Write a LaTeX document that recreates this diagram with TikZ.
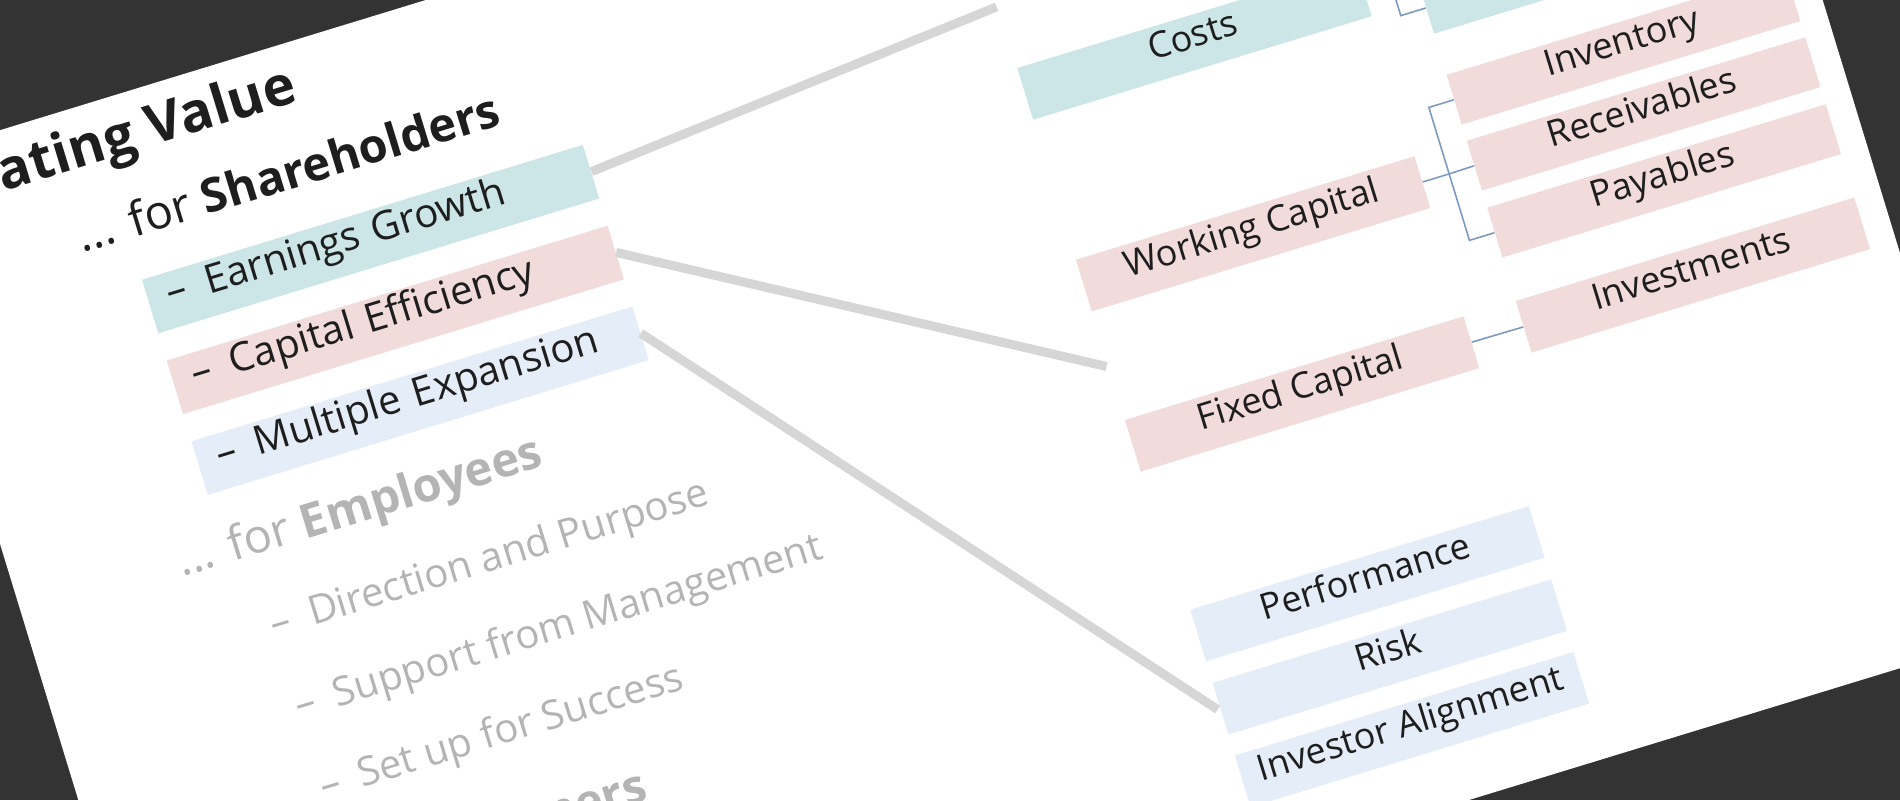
\documentclass[tikz,border=0pt]{standalone}
\usepackage{fontspec}
\setmainfont{Open Sans}
\definecolor{bgdark}{RGB}{51,51,51}
\definecolor{tealf}{RGB}{204,229,230}
\definecolor{pinkf}{RGB}{242,219,219}
\definecolor{bluef}{RGB}{229,238,248}
\definecolor{ink}{RGB}{30,30,30}
\definecolor{fade}{RGB}{180,180,180}
\definecolor{linegray}{RGB}{214,214,214}
\definecolor{brkblue}{RGB}{125,155,192}
\begin{document}
\begin{tikzpicture}[x=0.5pt,y=0.5pt,
  lbox/.style={rectangle, inner xsep=10pt, inner ysep=0pt, text width=210.5pt,
    align=left, minimum height=28pt, text height=0.8em, text depth=0.26em,
    font=\fontsize{20}{24}\selectfont, text=ink},
  rbox/.style={rectangle, inner sep=0pt, minimum width=177pt, minimum height=27pt,
    text height=0.8em, text depth=0.26em, align=center,
    font=\fontsize{18}{22}\selectfont, text=ink},
  titletext/.style={anchor=base east, inner sep=0pt, font=\fontsize{27.5}{32}\selectfont\bfseries, text=ink},
  hdr/.style={anchor=base west, inner sep=0pt, font=\fontsize{23.5}{28}\selectfont},
  subitem/.style={anchor=base west, inner sep=0pt, font=\fontsize{20}{24}\selectfont, text=fade},
  conn/.style={draw=linegray, line width=4.5pt},
  brk/.style={draw=brkblue, line width=0.8pt}]
\useasboundingbox (0,0) rectangle (1900,-800);
\fill[bgdark] (0,0) rectangle (1900,-800);
\clip (0,0) rectangle (1900,-800);
\begin{scope}[rotate=17, transform shape]
  \fill[white] (-159,-124.5) rectangle (1743,-1194.5);
  % left list
  \node[titletext] (title) at (257,-184) {Creating Value};
  \node[hdr, text=ink] (shh) at (5,-266) {... for \textbf{Shareholders}};
  \node[lbox, fill=tealf] (eg) at (284.5,-337) {–\hspace{0.5em}Earnings Growth};
  \node[lbox, fill=pinkf] (ce) at (284.5,-421.5) {–\hspace{0.5em}Capital Efficiency};
  \node[lbox, fill=bluef] (me) at (284.5,-506) {–\hspace{0.5em}Multiple Expansion};
  \node[hdr, text=fade] (emp) at (5,-605) {... for \textbf{Employees}};
  \node[subitem] (dir) at (76,-690) {–\hspace{0.5em}Direction and Purpose};
  \node[subitem] (sup) at (76,-775) {–\hspace{0.5em}Support from Management};
  \node[subitem] (set) at (76,-859) {–\hspace{0.5em}Set up for Success};
  \node[hdr, text=fade] (cus) at (5,-955) {... for \textbf{Customers}};
  \node[subitem] (rel) at (76,-1040) {–\hspace{0.5em}Long-Term Relationships};
  % right columns
  \node[rbox, fill=tealf] (costs) at (1130,-389.5) {Costs};
  \node[rbox, fill=tealf] (cchild) at (1538.5,-424.5) {};
  \node[rbox, fill=pinkf] (wc) at (1130,-590) {Working Capital};
  \node[rbox, fill=pinkf] (fc) at (1130,-757.5) {Fixed Capital};
  \node[rbox, fill=pinkf, minimum height=26pt] (inv) at (1538.5,-520.5) {Inventory};
  \node[rbox, fill=pinkf, minimum height=26pt] (rec) at (1538.5,-589.5) {Receivables};
  \node[rbox, fill=pinkf, minimum height=26pt] (pay) at (1538.5,-659.5) {Payables};
  \node[rbox, fill=pinkf] (invest) at (1538.5,-758) {Investments};
  \node[rbox, fill=bluef] (perf) at (1137,-958) {Performance};
  \node[rbox, fill=bluef] (risk) at (1137,-1034.5) {Risk};
  \node[rbox, fill=bluef] (ia) at (1137,-1110.5) {Investor Alignment};
  % gray connectors
  \coordinate (e1) at (951,-298);
  \coordinate (e2) at (951,-674);
  \coordinate (e3) at (957,-1034.5);
  \draw[conn] (eg.east) -- (e1);
  \draw[conn] (ce.east) -- (e2);
  \draw[conn] (me.east) -- (e3);
  % brackets
  \coordinate (cb) at (1335,-389.5);
  \coordinate (ctop) at (1335,-355);
  \coordinate (cbot) at (1335,-424.5);
  \draw[brk] (costs.east) -- (cb);
  \draw[brk] (ctop) -- (cbot) -- (cchild.west);
  \coordinate (wcb) at (1335,-590);
  \coordinate (wct) at (1335,-520.5);
  \coordinate (wcd) at (1335,-659.5);
  \draw[brk] (wc.east) -- (wcb) -- (rec.west);
  \draw[brk] (inv.west) -- (wct) -- (wcd) -- (pay.west);
  \draw[brk] (fc.east) -- (invest.west);
\end{scope}
\end{tikzpicture}
\end{document}
